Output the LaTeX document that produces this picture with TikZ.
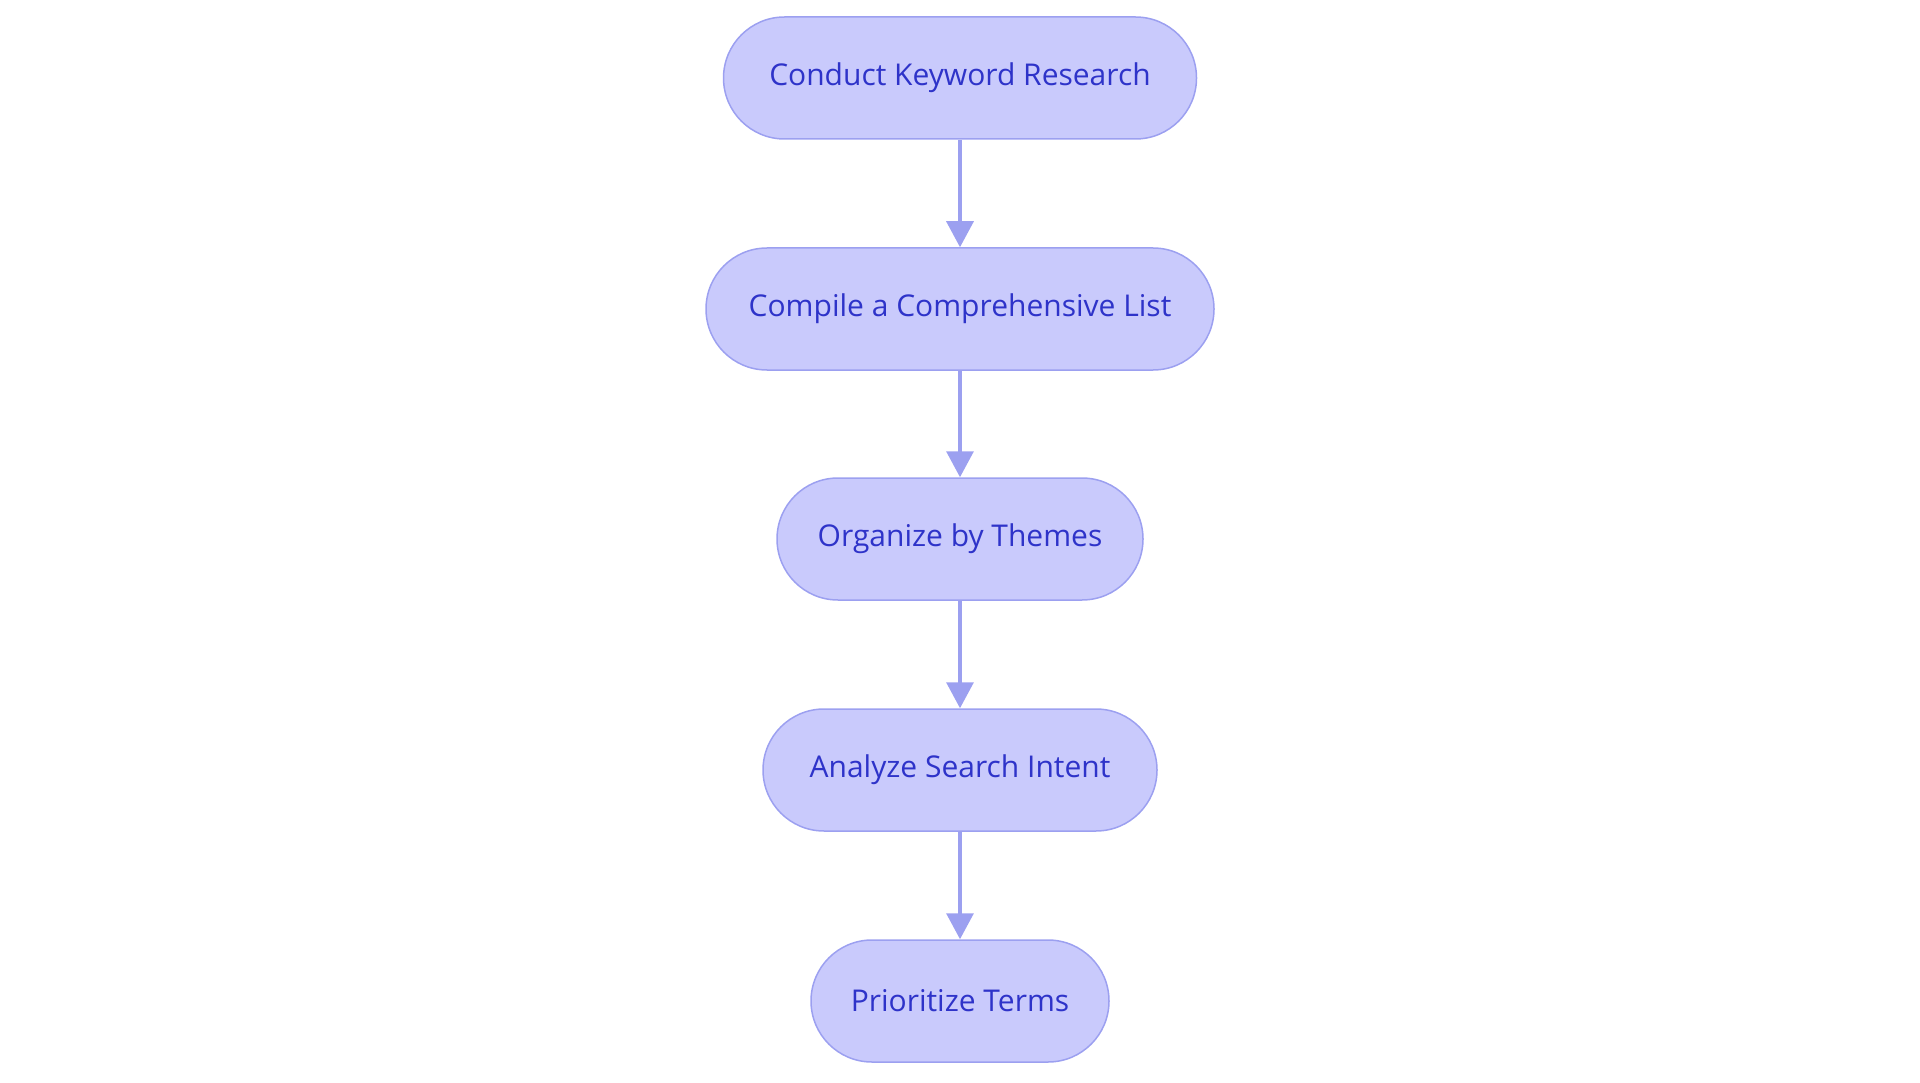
\documentclass[tikz,border=0pt]{standalone}
\usepackage{fontspec}
\setmainfont{Open Sans}
\usetikzlibrary{arrows.meta}
\definecolor{nodefill}{HTML}{C9CAFC}
\definecolor{nodeline}{HTML}{9CA0F0}
\definecolor{nodetext}{HTML}{2E33C9}
\tikzset{
  stage/.style={draw=nodeline, fill=nodefill, line width=1.5pt, rounded corners=61pt,
    minimum height=122pt, inner xsep=0pt, text=nodetext,
    font=\fontsize{30pt}{35pt}\selectfont},
  flow/.style={draw=nodeline, line width=3.3pt, -{Triangle[length=26pt,width=27pt]}}
}
\begin{document}
\begin{tikzpicture}[x=1pt,y=-1pt]
\useasboundingbox (0,0) rectangle (1920,1083);
\node[stage, minimum width=473pt] (a) at (960,78) {\raisebox{-1.5pt}{Conduct Keyword Research}};
\node[stage, minimum width=508pt] (b) at (960,309) {\raisebox{-1.5pt}{Compile a Comprehensive List}};
\node[stage, minimum width=366pt] (c) at (960,539) {\raisebox{-1.5pt}{Organize by Themes}};
\node[stage, minimum width=394pt] (d) at (960,770) {\raisebox{-1.5pt}{Analyze Search Intent}};
\node[stage, minimum width=298pt] (e) at (960,1001) {\raisebox{-1.5pt}{Prioritize Terms}};
\draw[flow] (a) -- (b);
\draw[flow] (b) -- (c);
\draw[flow] (c) -- (d);
\draw[flow] (d) -- (e);
\end{tikzpicture}
\end{document}
